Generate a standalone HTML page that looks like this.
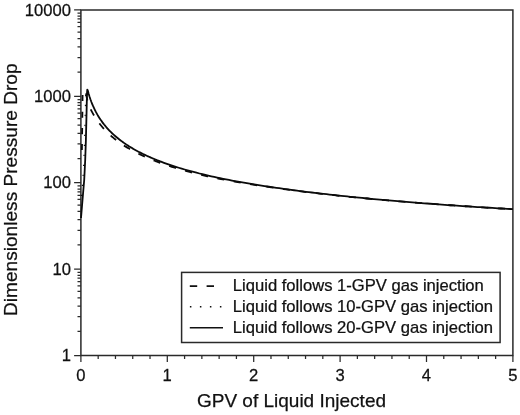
<!DOCTYPE html>
<html><head><meta charset="utf-8"><title>Chart</title>
<style>html,body{margin:0;padding:0;background:#fff}svg{display:block}</style></head>
<body>
<svg width="520" height="415" viewBox="0 0 520 415">
<rect width="520" height="415" fill="#fff"/>
<g stroke="#2a2a2a" stroke-width="1.5" fill="none">
<path d="M80.9,9.94 H512.9 V355.5 H80.9 Z"/>
<path d="M74.10,355.50 H80.9 M74.10,269.11 H80.9 M77.50,272.36 H80.9 M77.50,275.41 H80.9 M77.50,278.16 H80.9 M77.50,281.66 H80.9 M77.50,285.81 H80.9 M77.50,291.41 H80.9 M77.50,297.81 H80.9 M77.50,306.11 H80.9 M77.50,316.71 H80.9 M77.50,331.36 H80.9 M74.10,182.72 H80.9 M77.50,185.97 H80.9 M77.50,189.02 H80.9 M77.50,191.77 H80.9 M77.50,195.27 H80.9 M77.50,199.42 H80.9 M77.50,205.02 H80.9 M77.50,211.42 H80.9 M77.50,219.72 H80.9 M77.50,230.32 H80.9 M77.50,244.97 H80.9 M74.10,96.33 H80.9 M77.50,99.58 H80.9 M77.50,102.63 H80.9 M77.50,105.38 H80.9 M77.50,108.88 H80.9 M77.50,113.03 H80.9 M77.50,118.63 H80.9 M77.50,125.03 H80.9 M77.50,133.33 H80.9 M77.50,143.93 H80.9 M77.50,158.58 H80.9 M74.10,9.94 H80.9 M77.50,13.19 H80.9 M77.50,16.24 H80.9 M77.50,18.99 H80.9 M77.50,22.49 H80.9 M77.50,26.64 H80.9 M77.50,32.24 H80.9 M77.50,38.64 H80.9 M77.50,46.94 H80.9 M77.50,57.54 H80.9 M77.50,72.19 H80.9 M80.90,355.5 V362.1 M98.18,355.5 V358.9 M115.46,355.5 V358.9 M132.74,355.5 V358.9 M150.02,355.5 V358.9 M167.30,355.5 V362.1 M184.58,355.5 V358.9 M201.86,355.5 V358.9 M219.14,355.5 V358.9 M236.42,355.5 V358.9 M253.70,355.5 V362.1 M270.98,355.5 V358.9 M288.26,355.5 V358.9 M305.54,355.5 V358.9 M322.82,355.5 V358.9 M340.10,355.5 V362.1 M357.38,355.5 V358.9 M374.66,355.5 V358.9 M391.94,355.5 V358.9 M409.22,355.5 V358.9 M426.50,355.5 V362.1 M443.78,355.5 V358.9 M461.06,355.5 V358.9 M478.34,355.5 V358.9 M495.62,355.5 V358.9 M512.90,355.5 V362.1" stroke-width="1.25"/>
</g>
<g stroke="#0a0a0a" fill="none" stroke-linejoin="round">
<path d="M85.65,91.23 L86.18,94.12 L86.64,96.75 L87.12,99.16 L87.64,101.40 L88.17,103.48 L88.91,105.43 L89.72,107.26 L90.53,108.99 L91.34,110.63 L92.15,112.19 L92.96,113.67 L93.76,115.08 L94.57,116.43 L95.38,117.73 L96.19,118.97 L97.00,120.16 L97.81,121.32 L98.62,122.43 L99.43,123.50 L100.24,124.54 L101.05,125.54 L101.86,126.51 L102.67,127.46 L103.48,128.37 L104.29,129.26 L105.10,130.13 L105.91,130.97 L106.72,131.79 L107.53,132.59 L108.34,133.37 L109.15,134.13 L109.96,134.87 L110.77,135.59 L111.57,136.30 L112.38,136.99 L113.19,137.67 L114.00,138.34 L114.81,138.99 L115.62,139.62 L116.43,140.25 L117.24,140.86 L118.05,141.46 L118.86,142.04 L119.67,142.62 L120.48,143.19 L121.29,143.74 L122.10,144.29 L122.91,144.83 L123.72,145.36 L124.53,145.88 L125.34,146.39 L126.15,146.89 L126.96,147.38 L127.77,147.87 L128.58,148.35 L129.38,148.82 L130.19,149.29 L131.00,149.74 L131.81,150.19 L132.62,150.64 L133.43,151.08 L134.24,151.51 L135.05,151.93 L135.86,152.35 L136.67,152.77 L137.48,153.18 L138.29,153.58 L139.10,153.98 L139.91,154.37 L140.72,154.76 L141.53,155.14 L142.34,155.52 L143.15,155.89 L143.96,156.26 L144.77,156.63 L145.58,156.99 L146.39,157.34 L147.19,157.70 L148.00,158.04 L148.81,158.39 L149.62,158.73 L150.43,159.06 L151.24,159.40 L152.05,159.72 L152.86,160.05 L153.67,160.37 L154.48,160.69 L155.29,161.00 L156.10,161.32 L157.10,161.70 L160.06,162.79 L163.01,163.85 L165.97,164.87 L168.93,165.86 L171.89,166.82 L174.84,167.74 L177.80,168.64 L180.76,169.51 L183.71,170.35 L186.67,171.17 L189.63,171.97 L192.59,172.74 L195.54,173.50 L198.50,174.22 L201.46,174.92 L204.41,175.61 L207.37,176.27 L210.33,176.93 L213.37,177.56 L216.44,178.18 L219.50,178.79 L222.57,179.38 L225.62,179.96 L228.68,180.53 L231.73,181.08 L234.78,181.62 L237.83,182.15 L240.88,182.67 L243.92,183.18 L246.96,183.68 L250.00,184.17 L253.03,184.66 L256.06,185.13 L259.09,185.59 L262.12,186.04 L265.15,186.49 L268.17,186.93 L271.20,187.36 L274.22,187.78 L277.24,188.20 L280.25,188.62 L283.27,189.03 L286.28,189.44 L289.29,189.84 L292.30,190.24 L295.31,190.63 L298.32,191.02 L301.32,191.40 L304.33,191.77 L307.33,192.14 L310.33,192.50 L313.33,192.86 L316.33,193.21 L319.33,193.55 L322.33,193.90 L325.32,194.23 L328.32,194.57 L331.31,194.89 L334.30,195.22 L337.29,195.54 L340.28,195.85 L343.27,196.16 L346.26,196.47 L349.25,196.78 L352.24,197.07 L355.22,197.37 L358.21,197.66 L361.19,197.95 L364.17,198.24 L367.16,198.52 L370.14,198.80 L373.12,199.07 L376.10,199.34 L379.08,199.61 L382.06,199.88 L385.04,200.14 L388.01,200.40 L390.99,200.65 L393.97,200.91 L396.94,201.16 L399.92,201.41 L402.89,201.65 L405.87,201.89 L408.84,202.13 L411.82,202.37 L414.79,202.61 L417.76,202.84 L420.73,203.07 L423.70,203.30 L426.68,203.52 L429.65,203.74 L432.62,203.96 L435.59,204.18 L438.56,204.40 L441.53,204.61 L444.49,204.82 L447.46,205.03 L450.43,205.24 L453.40,205.45 L456.37,205.65 L459.33,205.85 L462.30,206.05 L465.27,206.25 L468.23,206.45 L471.20,206.64 L474.17,206.84 L477.13,207.03 L480.10,207.22 L483.06,207.40 L486.03,207.59 L488.99,207.77 L491.96,207.96 L494.92,208.14 L497.88,208.31 L500.85,208.49 L503.81,208.67 L506.78,208.84 L509.74,209.02 L512.70,209.19" stroke-width="1.8" stroke-dasharray="7.1 9.5" stroke-dashoffset="14.35"/>
<path d="M81.9,150 L82,144 M82.1,134.3 L82.2,128 M82.3,117.8 L82.4,111.7 M82.5,101 L82.6,95.1" stroke-width="1.8"/>
<path d="M81.20,200 L82.90,180 L83.90,160 L84.60,140 L85.20,115 L85.7,92" stroke-width="1.1" stroke-dasharray="1.3 8.7" stroke-dashoffset="-4"/>
<path d="M81,218 L82.5,200 L84.2,180 L85.2,160 L85.9,140 L86.5,115 L87.0,93 L87.25,89.7 L87.65,90.09 L88.57,93.45 L89.48,96.47 L90.40,99.22 L91.31,101.73 L92.23,104.05 L93.14,106.21 L94.06,108.22 L94.98,110.12 L95.89,111.90 L96.81,113.58 L97.72,115.18 L98.64,116.70 L99.56,118.15 L100.47,119.53 L101.39,120.86 L102.30,122.13 L103.22,123.35 L104.13,124.53 L105.05,125.66 L105.97,126.76 L106.88,127.81 L107.80,128.84 L108.71,129.83 L109.63,130.79 L110.55,131.72 L111.46,132.62 L112.38,133.50 L113.29,134.35 L114.21,135.19 L115.12,136.00 L116.04,136.79 L116.96,137.56 L117.87,138.31 L118.79,139.04 L119.70,139.76 L120.62,140.46 L121.54,141.15 L122.45,141.82 L123.37,142.48 L124.28,143.12 L125.20,143.75 L126.11,144.37 L127.03,144.97 L127.95,145.57 L128.86,146.15 L129.78,146.72 L130.69,147.29 L131.61,147.84 L132.53,148.38 L133.44,148.91 L134.36,149.43 L135.27,149.95 L136.19,150.46 L137.10,150.95 L138.02,151.44 L138.94,151.93 L139.85,152.40 L140.77,152.87 L141.68,153.33 L142.60,153.78 L143.52,154.23 L144.43,154.67 L145.35,155.10 L146.26,155.53 L147.18,155.95 L148.09,156.37 L149.01,156.78 L149.93,157.19 L150.84,157.59 L151.76,157.98 L152.67,158.37 L153.59,158.75 L154.51,159.13 L155.42,159.51 L156.34,159.88 L157.25,160.24 L158.17,160.61 L159.08,160.96 L160.00,161.32 L161.00,161.70 L163.96,162.79 L166.91,163.85 L169.87,164.87 L172.83,165.86 L175.79,166.82 L178.74,167.74 L181.70,168.64 L184.66,169.51 L187.61,170.35 L190.57,171.17 L193.53,171.97 L196.49,172.74 L199.44,173.50 L202.40,174.22 L205.36,174.92 L208.31,175.61 L211.27,176.27 L214.23,176.93 L217.19,177.56 L220.14,178.18 L223.10,178.79 L226.06,179.38 L229.01,179.96 L231.97,180.53 L234.93,181.08 L237.89,181.62 L240.84,182.15 L243.80,182.67 L246.76,183.18 L249.71,183.68 L252.67,184.17 L255.63,184.66 L258.59,185.13 L261.54,185.59 L264.50,186.04 L267.46,186.49 L270.41,186.93 L273.37,187.36 L276.33,187.78 L279.29,188.20 L282.24,188.62 L285.20,189.03 L288.16,189.44 L291.11,189.84 L294.07,190.24 L297.03,190.63 L299.99,191.02 L302.94,191.40 L305.90,191.77 L308.86,192.14 L311.81,192.50 L314.77,192.86 L317.73,193.21 L320.69,193.55 L323.64,193.90 L326.60,194.23 L329.56,194.57 L332.51,194.89 L335.47,195.22 L338.43,195.54 L341.39,195.85 L344.34,196.16 L347.30,196.47 L350.26,196.78 L353.21,197.07 L356.17,197.37 L359.13,197.66 L362.09,197.95 L365.04,198.24 L368.00,198.52 L370.96,198.80 L373.91,199.07 L376.87,199.34 L379.83,199.61 L382.79,199.88 L385.74,200.14 L388.70,200.40 L391.66,200.65 L394.61,200.91 L397.57,201.16 L400.53,201.41 L403.49,201.65 L406.44,201.89 L409.40,202.13 L412.36,202.37 L415.31,202.61 L418.27,202.84 L421.23,203.07 L424.19,203.30 L427.14,203.52 L430.10,203.74 L433.06,203.96 L436.01,204.18 L438.97,204.40 L441.93,204.61 L444.89,204.82 L447.84,205.03 L450.80,205.24 L453.76,205.45 L456.71,205.65 L459.67,205.85 L462.63,206.05 L465.59,206.25 L468.54,206.45 L471.50,206.64 L474.46,206.84 L477.41,207.03 L480.37,207.22 L483.33,207.40 L486.29,207.59 L489.24,207.77 L492.20,207.96 L495.16,208.14 L498.11,208.31 L501.07,208.49 L504.03,208.67 L506.99,208.84 L509.94,209.02 L512.90,209.19" stroke-width="1.8"/>
</g>
<rect x="181.6" y="272.4" width="318.5" height="70.1" fill="#fff" stroke="#2a2a2a" stroke-width="1.5"/>
<g stroke="#111" fill="none">
<path d="M189.8,286.1 H215" stroke-width="1.6" stroke-dasharray="7.4 9.4"/>
<path d="M189.9,306.8 H222" stroke-width="1.5" stroke-dasharray="1.5 8.5"/>
<path d="M189.8,327.8 H223" stroke-width="1.6"/>
</g>
<g font-family="'Liberation Sans', Arial, Helvetica, sans-serif" fill="#111" stroke="#111" stroke-width="0.25">
<g font-size="16px">
<text transform="translate(232.8,291.30) scale(1.0386,1)">Liquid follows 1-GPV gas injection</text>
<text transform="translate(232.8,312.05) scale(1.0386,1)">Liquid follows 10-GPV gas injection</text>
<text transform="translate(232.8,332.80) scale(1.0386,1)">Liquid follows 20-GPV gas injection</text>
<text transform="translate(70.9,361.10) scale(1.036,1)" text-anchor="end">1</text>
<text transform="translate(70.9,274.71) scale(1.036,1)" text-anchor="end">10</text>
<text transform="translate(70.9,188.32) scale(1.036,1)" text-anchor="end">100</text>
<text transform="translate(70.9,101.93) scale(1.036,1)" text-anchor="end">1000</text>
<text transform="translate(70.9,15.54) scale(1.036,1)" text-anchor="end">10000</text>
<text transform="translate(80.80,380.9) scale(1.036,1)" text-anchor="middle">0</text>
<text transform="translate(167.20,380.9) scale(1.036,1)" text-anchor="middle">1</text>
<text transform="translate(253.60,380.9) scale(1.036,1)" text-anchor="middle">2</text>
<text transform="translate(340.00,380.9) scale(1.036,1)" text-anchor="middle">3</text>
<text transform="translate(426.40,380.9) scale(1.036,1)" text-anchor="middle">4</text>
<text transform="translate(512.80,380.9) scale(1.036,1)" text-anchor="middle">5</text>
</g>
<g font-size="19px">
<text x="291.5" y="407" text-anchor="middle">GPV of Liquid Injected</text>
<text transform="translate(17,189.7) rotate(-90)" text-anchor="middle" font-size="19.1px">Dimensionless Pressure Drop</text>
</g></g>
</svg>
</body></html>
